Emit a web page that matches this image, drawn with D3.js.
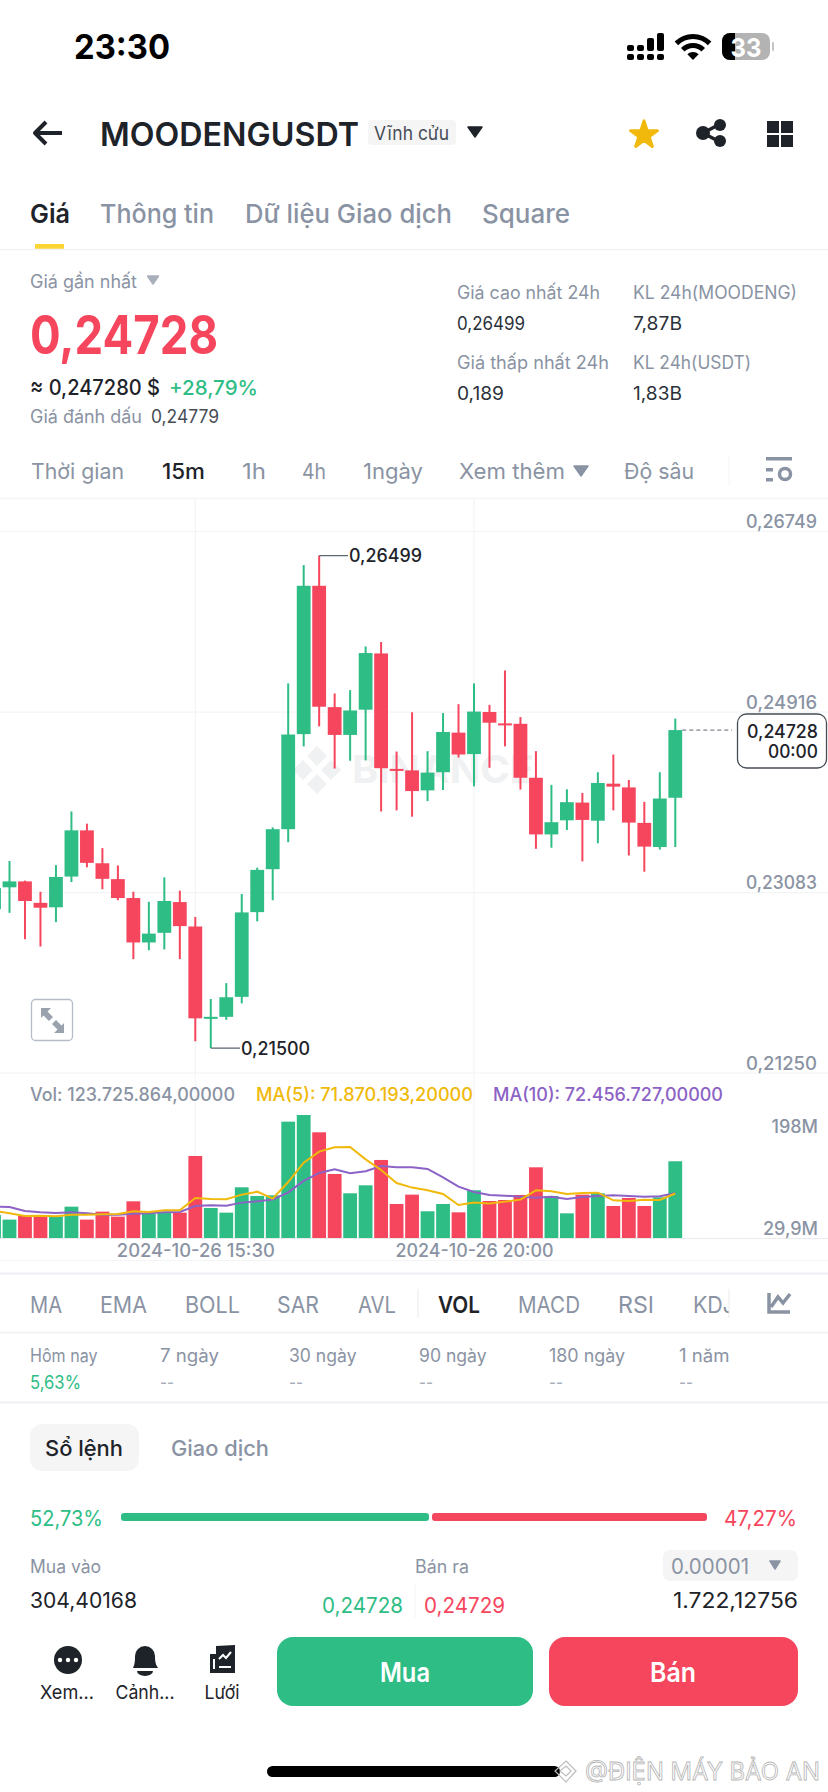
<!DOCTYPE html>
<html>
<head>
<meta charset="utf-8">
<script src="https://cdn.jsdelivr.net/npm/d3@7"></script>
<style>
html, body { margin: 0; padding: 0; background: #fff; }
svg { display: block; font-family: Inter, "Noto Sans", sans-serif; }
</style>
</head>
<body>
<div id="chart"></div>
<script>
// candles, 15m, first one is cut by the left edge
const opens = [.22910,.23132,.23192,.22974,.22929,.23241,.23710,.23376,.23215,.23023,.22572,.22670,.22982,.22734,.21802,.21817,.22020,.22880,.23316,.23722,.24687,.26193,.24961,.24679,.24935,.25506,.24334,.24319,.24116,.24300,.24702,.24484,.24912,.24796,.24792,.24244,.23669,.23812,.23992,.23808,.24184,.24146,.23786,.23541,.24041];
const closes = [.23124,.23192,.22993,.22925,.23237,.23710,.23380,.23218,.23023,.22572,.22662,.22993,.22738,.21802,.21817,.22016,.22877,.23309,.23722,.24683,.26193,.24965,.24679,.24927,.25510,.24341,.24315,.24109,.24296,.24709,.24480,.24916,.24803,.24781,.24244,.23669,.23793,.23996,.23816,.24191,.24154,.23789,.23545,.24033,.24728];
const highs = [.23180,.23399,.23200,.23087,.23357,.23902,.23778,.23530,.23354,.23087,.22985,.23233,.23098,.22831,.21998,.22159,.23064,.23331,.23740,.25202,.26403,.26499,.25100,.25134,.25577,.25622,.24510,.24909,.24514,.24901,.24991,.25202,.24984,.25333,.24860,.24514,.24172,.24127,.24090,.24300,.24480,.24221,.24000,.24300,.24845];
const lows = [.22850,.22873,.22606,.22531,.22779,.23185,.23335,.23113,.23001,.22403,.22493,.22501,.22403,.21569,.21500,.21787,.21953,.22786,.23001,.23590,.24563,.24766,.24338,.24417,.24420,.23902,.23913,.23849,.24007,.24120,.24450,.24157,.24345,.24563,.24124,.23523,.23534,.23714,.23395,.23579,.23913,.23455,.23290,.23515,.23541];
// volume in millions
const volumes = [37.5,30.0,35.9,35.9,34.8,50.8,30.0,42.8,34.8,59.4,39.1,42.8,41.2,132.2,48.7,41.2,81.9,68.0,69.0,187.3,198,170.2,103.3,72.3,85.1,125.8,55.1,70.1,43.4,55.1,41.7,77.1,59.9,61.5,69.6,114.0,68.0,40.1,70.1,72.3,51.9,64.8,51.9,65.8,123.726];
const ma5 = [44.4,40.1,35.9,36.4,35.3,38.0,38.0,38.5,39.1,43.4,42.3,45.0,45.0,64.8,63.2,62.6,70.1,74.9,63.7,90.4,121.5,139.2,146.1,146.6,126.8,109.7,88.8,81.4,77.1,71.2,53.5,57.3,55.7,58.9,62.1,77.1,75.5,71.2,72.8,73.3,61.0,59.9,62.1,61.5,71.87];
const ma10 = [50.8,50.3,43.9,41.7,40.7,41.7,40.1,38.0,38.0,39.6,40.1,41.7,42.3,51.9,53.0,52.4,57.3,59.4,62.1,73.9,92.1,104.9,110.8,104.4,107.6,116.1,114.0,114.0,111.3,97.9,83.0,74.4,69.6,68.5,66.9,65.3,66.9,63.2,66.4,68.0,69.0,68.0,66.9,67.4,72.46];

const priceTicks = [.26749,.24916,.23083,.21250];
const volTicks = [198,29.9];
const timeTicks = ['2024-10-26 15:30','2024-10-26 20:00'];
const firstTime = '2024-10-26 12:15';
const lastPrice = .24728, highPrice = .26499, lowPrice = .215;
const buyShare = 52.73;

const intervals = [['Thời gian',31,93],['15m',162,43],['1h',242,24],['4h',302,24],['1ngày',363,60],['Xem thêm',459,106],['Độ sâu',624,70]];
const indicators = [['MA',30,32],['EMA',100,47],['BOLL',185,55],['SAR',277,42],['AVL',358,38],['VOL',438,42],['MACD',518,62],['RSI',618,36]];
const periods = [['Hôm nay','5,63%',30],['7 ngày','--',160],['30 ngày','--',289],['90 ngày','--',419],['180 ngày','--',549],['1 năm','--',679]];

const GREEN = '#2ebd85', RED = '#f6465d', DARK = '#1e2329', GREY = '#8a93a3', LINE = '#f3f4f6';

const svg = d3.select('#chart').append('svg').attr('width', 828).attr('height', 1792);
const vn = d3.formatLocale({decimal: ',', thousands: '.', grouping: [3], currency: ['', '']});
const fmtPrice = vn.format('.5f');
const parse = d3.timeParse('%Y-%m-%d %H:%M');
const start = parse(firstTime);
const times = opens.map((d, i) => d3.timeMinute.offset(start, 15 * i));

const x = d3.scaleTime().domain(timeTicks.map(parse)).range([195.3, 474]);
const y = d3.scaleLinear().domain([.2125, .26749]).range([1072.7, 531]);
const v = d3.scaleLinear().domain([0, 198]).range([1238.3, 1115]);

// text helper, w forces the width so the narrow app font is matched
function t(str, tx, ty, size, color, weight, w, anchor) {
    const n = svg.append('text').attr('x', tx).attr('y', ty).text(str)
        .attr('font-size', size).attr('fill', color).attr('font-weight', weight || 400)
        .attr('text-anchor', anchor || 'start');
    if (w) n.attr('textLength', w).attr('lengthAdjust', 'spacingAndGlyphs');
    return n;
}
function rect(rx, ry, w, h, fill, r) {
    return svg.append('rect').attr('x', rx).attr('y', ry).attr('width', w).attr('height', h).attr('fill', fill).attr('rx', r || 0);
}
function hline(ly, color, sw) {
    svg.append('line').attr('x1', 0).attr('x2', 828).attr('y1', ly).attr('y2', ly).attr('stroke', color).attr('stroke-width', sw || 1);
}
function tri(cx, cy, w, h, color) {
    svg.append('path').attr('d', `M${cx - w / 2},${cy - h / 2}L${cx + w / 2},${cy - h / 2}L${cx},${cy + h / 2}Z`)
        .attr('fill', color).attr('stroke', color).attr('stroke-width', 1.5).attr('stroke-linejoin', 'round');
}

// status bar
t('23:30', 74, 59, 34, '#000', 700, 96);
const sig = [[54,6],[45,6],[54,6],[45,6],[38,13],[54,6],[33,18],[54,6]];
sig.forEach((d, i) => {
    const col = Math.floor(i / 2) === 0 ? 0 : i < 4 ? 1 : i < 6 ? 2 : 3;
    rect(627 + col * 10, d[0], 7, d[1], '#000', 2);
});
const wifi = d3.arc().startAngle(-Math.PI / 4).endAngle(Math.PI / 4);
[[0, 8], [12, 17], [21, 26]].forEach(d => {
    svg.append('path').attr('transform', 'translate(693,60)').attr('fill', '#000')
        .attr('d', wifi({innerRadius: d[0], outerRadius: d[1]}));
});
rect(722, 33, 48, 27, '#b3b3b3', 8);
svg.append('path').attr('d', 'M735,33H730a8,8 0 0 0 -8,8V52a8,8 0 0 0 8,8H735Z').attr('fill', '#000');
rect(772, 42, 2, 9, '#c4c4c4', 1);
t('33', 746, 57, 26, '#fff', 700, 31, 'middle');

// header
svg.append('path').attr('d', 'M35,133H62M46,122L35,133L46,144').attr('fill', 'none').attr('stroke', DARK)
    .attr('stroke-width', 4).attr('stroke-linejoin', 'round');
t('MOODENGUSDT', 100, 146, 33, DARK, 600, 259);
rect(368, 120, 88, 25, '#f5f5f5', 4);
t('Vĩnh cửu', 374, 140, 19, '#474d57', 400, 75);
tri(475, 132, 14, 10, DARK);
svg.append('path').attr('transform', 'translate(644,135)').attr('d', d3.symbol(d3.symbolStar, 225)())
    .attr('fill', '#f0b90b').attr('stroke', '#f0b90b').attr('stroke-width', 3).attr('stroke-linejoin', 'round');
svg.append('path').attr('d', 'M703,133L720,124M703,133L720,142').attr('stroke', DARK).attr('stroke-width', 3.5);
[[703,133,7],[720,125,6],[720,141,6]].forEach(d => svg.append('circle').attr('cx', d[0]).attr('cy', d[1]).attr('r', d[2]).attr('fill', DARK));
[[767,121],[781,121],[767,135],[781,135]].forEach(d => rect(d[0], d[1], 12, 12, DARK));

// tabs
t('Giá', 30, 223, 26, DARK, 600, 40);
t('Thông tin', 100, 223, 26, GREY, 500, 114);
t('Dữ liệu Giao dịch', 245, 223, 26, GREY, 500, 207);
t('Square', 482, 223, 26, GREY, 500, 88);
rect(35, 244, 29, 5, '#fcd535');
hline(249.5, '#f0f1f3', 1.5);

// price block
t('Giá gần nhất', 30, 288, 18, GREY, 400, 107);
tri(153, 280, 11, 8, '#a8afba');
t('0,24728', 30, 354, 53, RED, 700, 188);
t('≈ 0,247280 $', 30, 395, 21, DARK, 500, 130);
t('+28,79%', 169, 395, 20, GREEN, 500, 89);
t('Giá đánh dấu', 30, 423, 18, GREY, 400, 112);
t('0,24779', 151, 423, 18, '#474d57', 400, 68);
t('Giá cao nhất 24h', 457, 299, 18, GREY, 400, 143);
t('KL 24h(MOODENG)', 633, 299, 18, GREY, 400, 164);
t('0,26499', 457, 330, 18, '#2b3139', 400, 68);
t('7,87B', 633, 330, 18, '#2b3139', 400, 49);
t('Giá thấp nhất 24h', 457, 369, 18, GREY, 400, 152);
t('KL 24h(USDT)', 633, 369, 18, GREY, 400, 118);
t('0,189', 457, 400, 18, '#2b3139', 400, 47);
t('1,83B', 633, 400, 18, '#2b3139', 400, 49);

// interval row
intervals.forEach(d => t(d[0], d[1], 479, 22, d[0] === '15m' ? DARK : GREY, d[0] === '15m' ? 500 : 400, d[2]));
tri(581, 471, 14, 10, GREY);
svg.append('line').attr('x1', 729).attr('x2', 729).attr('y1', 455).attr('y2', 486).attr('stroke', LINE);
rect(766, 457, 26, 3.5, GREY);
rect(766, 468, 7, 3.5, GREY);
rect(766, 478, 7, 3.5, GREY);
svg.append('circle').attr('cx', 785).attr('cy', 474).attr('r', 5.5).attr('fill', '#fff').attr('stroke', GREY).attr('stroke-width', 3.5);
hline(498.5, LINE, 1.5);

// watermark under the candles
svg.append('path').attr('transform', 'translate(317,770)').attr('fill', '#f0f1f2')
    .attr('d', 'M0,-24L10,-14L0,-4L-10,-14ZM-14,-10L-4,0L-14,10L-24,0ZM14,-10L24,0L14,10L4,0ZM0,4L10,14L0,24L-10,14Z');
t('BINANCE', 352, 783, 38, '#f0f1f2', 700, 182);

// grid
timeTicks.map(parse).forEach(d => {
    svg.append('line').attr('x1', x(d)).attr('x2', x(d)).attr('y1', 498).attr('y2', 1238).attr('stroke', LINE).attr('stroke-width', 1.2);
});

// price axis, labels sit above the grid lines
const priceAxis = svg.append('g').attr('transform', 'translate(828,0)')
    .call(d3.axisLeft(y).tickValues(priceTicks).tickSize(828).tickFormat(fmtPrice));
priceAxis.select('.domain').remove();
priceAxis.selectAll('line').attr('stroke', LINE).attr('stroke-width', 1.2);
priceAxis.selectAll('text').attr('x', -11).attr('dy', -3.2).attr('text-anchor', 'end').attr('fill', GREY)
    .attr('font-family', 'Inter').attr('font-size', 18).attr('font-weight', 500)
    .attr('textLength', 71).attr('lengthAdjust', 'spacingAndGlyphs');

// candles
const candles = svg.append('g').selectAll('g').data(times).join('g')
    .attr('fill', (d, i) => closes[i] >= opens[i] ? GREEN : RED);
candles.append('rect').attr('x', d => x(d) - 1).attr('width', 2)
    .attr('y', (d, i) => y(highs[i])).attr('height', (d, i) => y(lows[i]) - y(highs[i]));
candles.append('rect').attr('x', d => x(d) - 6.9).attr('width', 13.8)
    .attr('y', (d, i) => y(Math.max(opens[i], closes[i])))
    .attr('height', (d, i) => Math.max(2, Math.abs(y(opens[i]) - y(closes[i]))));

// high and low callouts
const iHigh = highs.indexOf(highPrice), iLow = lows.indexOf(lowPrice);
svg.append('path').attr('fill', 'none').attr('stroke', '#5e6673').attr('stroke-width', 1.2)
    .attr('d', `M${x(times[iHigh])},${y(highPrice)}H348M${x(times[iLow])},${y(lowPrice)}H240`);
t(fmtPrice(highPrice), 349, y(highPrice) + 6.5, 18, DARK, 500, 73);
t(fmtPrice(lowPrice), 241, y(lowPrice) + 6.5, 18, DARK, 500, 69);

// last price tag
const lastX = x(times[times.length - 1]);
svg.append('line').attr('x1', lastX + 7).attr('x2', 732).attr('y1', y(lastPrice)).attr('y2', y(lastPrice))
    .attr('stroke', '#5e6673').attr('stroke-dasharray', '4 3');
rect(737.5, 714, 89, 54, '#fff', 9).attr('stroke', '#474d57').attr('stroke-width', 1.3);
t(fmtPrice(lastPrice), 818, 737.5, 18.5, DARK, 500, 71, 'end');
t('00:00', 818, 758, 18.5, DARK, 500, 50, 'end');

// expand button
rect(31.5, 999.5, 41, 41, '#fff', 4).attr('stroke', '#b7bdc6').attr('stroke-width', 1.3);
svg.append('path').attr('fill', '#9aa2ae')
    .attr('d', 'M41,1008H51L47.5,1011.5L53,1017L49,1021L43.5,1015.5L41,1018ZM64,1033H54L57.5,1029.5L52,1024L56,1020L61.5,1025.5L64,1023Z');

// legend
t('Vol: 123.725.864,00000', 30, 1101, 18, GREY, 500, 205);
t('MA(5): 71.870.193,20000', 256, 1101, 18, '#f0b90b', 500, 217);
t('MA(10): 72.456.727,00000', 493, 1101, 18, '#8c62c6', 500, 230);

// volume bars
svg.append('g').selectAll('rect').data(times).join('rect')
    .attr('x', d => x(d) - 6.9).attr('width', 13.8)
    .attr('y', (d, i) => v(volumes[i])).attr('height', (d, i) => v(0) - v(volumes[i]))
    .attr('fill', (d, i) => closes[i] >= opens[i] ? GREEN : RED);
const maLine = vals => d3.line().x(d => x(d)).y((d, i) => v(vals[i]))(times);
svg.append('path').attr('d', maLine(ma10)).attr('fill', 'none').attr('stroke', '#8c62c6').attr('stroke-width', 2);
svg.append('path').attr('d', maLine(ma5)).attr('fill', 'none').attr('stroke', '#f0b90b').attr('stroke-width', 2);
hline(1238.5, '#e8eaee', 1.2);

const volAxis = svg.append('g').attr('transform', 'translate(818,0)')
    .call(d3.axisLeft(v).tickValues(volTicks).tickSize(0).tickFormat(d => vn.format('.3~s')(d * 1e6)));
volAxis.select('.domain').remove();
volAxis.selectAll('text').attr('x', 0).attr('text-anchor', 'end').attr('fill', GREY)
    .attr('font-family', 'Inter').attr('font-size', 18).attr('font-weight', 500)
    .attr('dy', d => d > 100 ? 17 : 15);

// time axis
const timeAxis = svg.append('g').attr('transform', 'translate(0,1243)')
    .call(d3.axisBottom(x).tickValues(timeTicks.map(parse)).tickSize(0).tickPadding(0).tickFormat(d3.timeFormat('%Y-%m-%d %H:%M')));
timeAxis.select('.domain').remove();
timeAxis.selectAll('text').attr('fill', GREY).attr('font-family', 'Inter').attr('font-size', 18).attr('font-weight', 500)
    .attr('textLength', 158).attr('lengthAdjust', 'spacingAndGlyphs').attr('dy', 14);
hline(1260.5, LINE, 1);
hline(1273.5, '#eef0f3', 2);

// indicator row
indicators.forEach(d => t(d[0], d[1], 1313, 23, d[0] === 'VOL' ? DARK : GREY, d[0] === 'VOL' ? 600 : 400, d[2]));
svg.append('clipPath').attr('id', 'kdj').append('rect').attr('x', 690).attr('y', 1290).attr('width', 39).attr('height', 30);
t('KDJ', 693, 1313, 23, GREY, 400, 42).attr('clip-path', 'url(#kdj)');
svg.append('line').attr('x1', 418).attr('x2', 418).attr('y1', 1289).attr('y2', 1318).attr('stroke', '#e8eaee');
svg.append('line').attr('x1', 729).attr('x2', 729).attr('y1', 1289).attr('y2', 1318).attr('stroke', '#e8eaee');
svg.append('path').attr('fill', 'none').attr('stroke', GREY).attr('stroke-width', 3.5)
    .attr('d', 'M769,1293V1312H790M771,1307L778,1297L783,1303L790,1294');
hline(1332.5, LINE, 2);

// return periods
periods.forEach((d, i) => {
    t(d[0], d[2], 1362, 18, GREY, 400, d[0].length * 8.5 + 8);
    t(d[1], d[2], 1389, 18, i === 0 ? GREEN : '#a8afba', 400, i === 0 ? 51 : 14);
});
hline(1402.5, '#eef0f3', 2);

// order book
rect(30, 1424, 109, 47, '#f5f5f5', 12);
t('Sổ lệnh', 45, 1456, 22, DARK, 500, 78);
t('Giao dịch', 171, 1456, 22, GREY, 500, 98);

const ratio = d3.scaleLinear().domain([0, 100]).range([121, 707]);
t('52,73%', 30, 1526, 21, GREEN, 400, 73);
t('47,27%', 797, 1526, 21, RED, 400, 73, 'end');
rect(ratio(0), 1513, ratio(buyShare) - ratio(0) - 1, 8, GREEN, 3);
rect(ratio(buyShare) + 2, 1513, ratio(100) - ratio(buyShare) - 2, 8, RED, 3);

t('Mua vào', 30, 1573, 18, GREY, 400, 71);
t('Bán ra', 415, 1573, 18, GREY, 400, 54);
rect(663, 1550, 135, 31, '#f5f5f5', 7);
t('0.00001', 671, 1574, 21, GREY, 400, 78);
tri(775, 1565, 10, 8, GREY);
t('304,40168', 30, 1608, 21, DARK, 400, 107);
t('1.722,12756', 798, 1608, 21, DARK, 400, 125, 'end');
t('0,24728', 322, 1613, 21, GREEN, 400, 81);
t('0,24729', 424, 1613, 21, RED, 400, 81);
svg.append('line').attr('x1', 415).attr('x2', 415).attr('y1', 1585).attr('y2', 1618).attr('stroke', LINE);

// bottom bar
svg.append('circle').attr('cx', 68).attr('cy', 1660).attr('r', 14).attr('fill', DARK);
[60, 68, 76].forEach(cx => svg.append('circle').attr('cx', cx).attr('cy', 1660).attr('r', 2.2).attr('fill', '#fff'));
svg.append('path').attr('fill', DARK).attr('d', 'M133,1668C135,1664 135,1660 135,1656a10,10 0 0 1 20,0C155,1660 155,1664 158,1668ZM137,1671H153a8,5 0 0 1 -16,0Z');
svg.append('path').attr('fill', DARK).attr('d', 'M210,1654L216,1654L216,1646L235,1645V1673H210Z');
svg.append('path').attr('fill', 'none').attr('stroke', '#fff').attr('stroke-width', 2).attr('d', 'M214,1659V1669M219,1667H231M219,1659L223,1655L226,1658L231,1652');
t('Xem...', 67, 1699, 19, DARK, 400, 54, 'middle');
t('Cảnh...', 145, 1699, 19, DARK, 400, 59, 'middle');
t('Lưới', 222, 1699, 19, DARK, 400, 35, 'middle');

rect(277, 1637, 256, 69, GREEN, 16);
t('Mua', 405, 1682, 27, '#fff', 600, 50, 'middle');
rect(549, 1637, 249, 69, RED, 16);
t('Bán', 673, 1682, 27, '#fff', 600, 46, 'middle');

// home bar and credit
rect(267, 1766, 293, 11, '#000', 5.5);
svg.append('path').attr('fill', 'none').attr('stroke', '#bdbdbd').attr('stroke-width', 1.2)
    .attr('d', 'M566,1761L576,1771L566,1782L555,1771ZM566,1766L571,1771L566,1776L560,1771Z');
t('@ĐIỆN MÁY BẢO AN', 585, 1780, 24, '#fff', 400, 235).attr('stroke', '#b5b5b5').attr('stroke-width', 0.8);
</script>
</body>
</html>
